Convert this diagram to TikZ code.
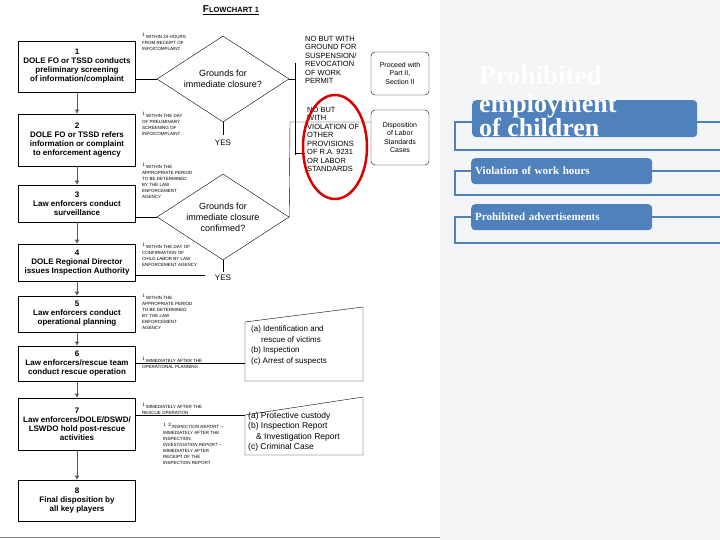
\documentclass[tikz,border=0pt]{standalone}
\usepackage{fontspec}
\setmainfont{Liberation Sans}
\newfontfamily\serifb{Liberation Serif}
\usetikzlibrary{shapes.geometric,arrows.meta}
\definecolor{pblue}{HTML}{4F81BD}
\definecolor{panel}{HTML}{F3F5F7}
\tikzset{
  stepbox/.style={draw,thick,minimum width=117pt,align=center,font=\fontsize{8}{9}\selectfont\bfseries,inner sep=1pt},
  dia/.style={draw,diamond,aspect=1.53,minimum width=132pt,minimum height=86pt,align=center,font=\fontsize{9}{11}\selectfont,inner sep=0pt},
  note/.style={anchor=north west,align=left,font=\fontsize{4.5}{6}\selectfont,inner sep=0pt},
  side/.style={draw,rounded corners=4pt,align=center,font=\fontsize{7}{8.5}\selectfont,minimum width=58pt},
  lbl/.style={anchor=north west,align=left,font=\fontsize{7.5}{8.5}\selectfont,inner sep=0pt},
  arr/.style={-{Triangle[length=4pt,width=4pt]},thick,gray!70!black},
  bb/.style={fill=pblue,rounded corners=4pt,text=white,anchor=north west,inner sep=4pt},
  brk/.style={pblue,line width=1.8pt}
}
\begin{document}
\begin{tikzpicture}[x=1pt,y=-1pt]
\useasboundingbox (0,0) rectangle (720,540);
\fill[white] (0,0) rectangle (440,540);
\fill[panel] (440,0) rectangle (720,540);
\draw[gray,thick] (0,537) -- (440,537);
\node (title) at (231,10) {\fontsize{10}{11}\selectfont\bfseries\underline{F\fontsize{7.5}{8}\selectfont LOWCHART 1}};
% step boxes
\node[stepbox,minimum height=51pt] (b1) at (77,66.5) {1\\DOLE FO or TSSD conducts\\preliminary screening\\of information/complaint};
\node[stepbox,minimum height=52pt] (b2) at (77,140) {2\\DOLE FO or TSSD refers\\information or complaint\\to enforcement agency};
\node[stepbox,minimum height=37pt] (b3) at (77,203.5) {3\\Law enforcers conduct\\surveillance};
\node[stepbox,minimum height=37pt] (b4) at (77,262.5) {4\\DOLE Regional Director\\issues Inspection Authority};
\node[stepbox,minimum height=36pt] (b5) at (77,314) {5\\Law enforcers conduct\\operational planning};
\node[stepbox,minimum height=35pt] (b6) at (77,363.5) {6\\Law enforcers/rescue team\\conduct rescue operation};
\node[stepbox,minimum height=52pt] (b7) at (77,424) {7\\Law enforcers/DOLE/DSWD/\\LSWDO hold post-rescue\\activities};
\node[stepbox,minimum height=41pt] (b8) at (77,500.5) {8\\Final disposition by\\all key players};
\foreach \a/\b in {b1/b2,b2/b3,b3/b4,b4/b5,b5/b6,b6/b7,b7/b8} \draw[arr] (\a) -- (\b);
% diamonds
\node[dia] (d1) at (223,79) {Grounds for\\immediate closure?};
\node[dia] (d2) at (223,217) {Grounds for\\immediate closure\\confirmed?};
\draw (b1.east |- d1.west) -- (d1.west);
\draw (b3.east |- 0,217) coordinate (c3) -- (d2.west);
\coordinate (y1) at (223,135); \draw (d1.south) -- (y1);
\node (yes1) at (223,143) {\fontsize{8}{9}\selectfont YES};
\coordinate (y2) at (223,272); \draw (d2.south) -- (y2);
\node (yes2) at (223,278) {\fontsize{8}{9}\selectfont YES};
\coordinate (c4) at (205,275); \draw (b4.east |- c4) -- (c4);
% NO branches
\coordinate (v1) at (295,63); \coordinate (v2) at (295,155);
\draw (d1.east) -- (v1 |- d1.east); \draw (v1) -- (v2);
\coordinate (h3) at (305,153); \draw (295,153) -- (h3);
\node[side,minimum height=43pt] (p1) at (400,73.5) {Proceed with\\Part II,\\Section II};
\node[side,minimum height=55pt] (p2) at (400,137.5) {Disposition\\of Labor\\Standards\\Cases};
\coordinate (v3) at (290,122);
\draw (d2.east) -- (v3) -- (p2.west |- v3);
\node[lbl] (n1) at (305,36) {NO BUT WITH\\GROUND FOR\\SUSPENSION/\\REVOCATION\\OF WORK\\PERMIT};
\node[lbl] (n2) at (307,107) {NO BUT\\WITH\\VIOLATION OF\\OTHER\\PROVISIONS\\OF R.A. 9231\\OR LABOR\\STANDARDS};
\draw[red!85!black,line width=2.5pt] (335,147) ellipse [x radius=32,y radius=52];
% notes
\node[note] (t1) at (142,33) {$^1$WITHIN 24 HOURS\\FROM RECEIPT OF\\INFO/COMPLAINT};
\node[note] (t2) at (142,112) {$^1$WITHIN THE DAY\\OF PRELIMINARY\\SCREENING OF\\INFO/COMPLAINT};
\node[note] (t3) at (142,163) {$^1$WITHIN THE\\APPROPRIATE PERIOD\\TO BE DETERMINED\\BY THE LAW\\ENFORCEMENT\\AGENCY};
\node[note] (t4) at (142,243) {$^1$WITHIN THE DAY OF\\CONFIRMATION OF\\CHILD LABOR BY LAW\\ENFORCEMENT AGENCY};
\node[note] (t5) at (142,294) {$^1$WITHIN THE\\APPROPRIATE PERIOD\\TO BE DETERMINED\\BY THE LAW\\ENFORCEMENT\\AGENCY};
\node[note] (t6) at (142,357) {$^1$IMMEDIATELY AFTER THE\\OPERATIONAL PLANNING};
\node[note] (t7) at (142,403) {$^1$IMMEDIATELY AFTER THE\\RESCUE OPERATION};
\node[note] (t8) at (163,423) {$^{1\,2}$\textit{INSPECTION REPORT} --\\IMMEDIATELY AFTER THE\\INSPECTION;\\\textit{INVESTIGATION REPORT} --\\IMMEDIATELY AFTER\\RECEIPT OF THE\\INSPECTION REPORT};
% side panels
\draw (245,322) -- (363,307) -- (363,381) -- (245,381) -- cycle;
\node[lbl,font=\fontsize{8}{10.5}\selectfont] (s1) at (251,326) {(a) Identification and\\\hspace*{10pt}rescue of victims\\(b) Inspection\\(c) Arrest of suspects};
\draw (b6.east) -- (245,363.5);
\draw (245,415) -- (363,397) -- (363,455) -- (245,455) -- cycle;
\node[lbl,font=\fontsize{8.5}{10.5}\selectfont] (s2) at (248,412) {(a) Protective custody\\(b) Inspection Report\\\hspace*{8pt}\& Investigation Report\\(c) Criminal Case};
\draw (b7.east |- 0,415) -- (245,415);
% right panel
\node[anchor=north west,text=white,font=\serifb\fontsize{27}{27}\selectfont\bfseries,inner sep=0pt] (pt) at (479,66) {Prohibited};
\draw[brk] (472,122) -- (455,122) -- (455,150) -- (720,150);
\draw[brk] (697,122) -- (720,122);
\node[bb,minimum width=225pt,minimum height=37pt] (r1) at (472,100) {};
\node[anchor=north west,text=white,align=left,font=\serifb\fontsize{26}{24}\selectfont\bfseries,inner sep=0pt] (r1t) at (479,94) {employment\\of children};
\draw[brk] (471,171) -- (455,171) -- (455,195) -- (720,195);
\draw[brk] (652,171) -- (720,171);
\node[bb,minimum width=181pt,minimum height=26pt,font=\serifb\fontsize{11}{12}\selectfont\bfseries,align=left,text width=173pt] (r2) at (471,158) {Violation of work hours};
\draw[brk] (471,217) -- (455,217) -- (455,243) -- (720,243);
\draw[brk] (652,217) -- (720,217);
\node[bb,minimum width=181pt,minimum height=26pt,font=\serifb\fontsize{11}{12}\selectfont\bfseries,align=left,text width=173pt] (r3) at (471,204) {Prohibited advertisements};
\end{tikzpicture}
\end{document}
